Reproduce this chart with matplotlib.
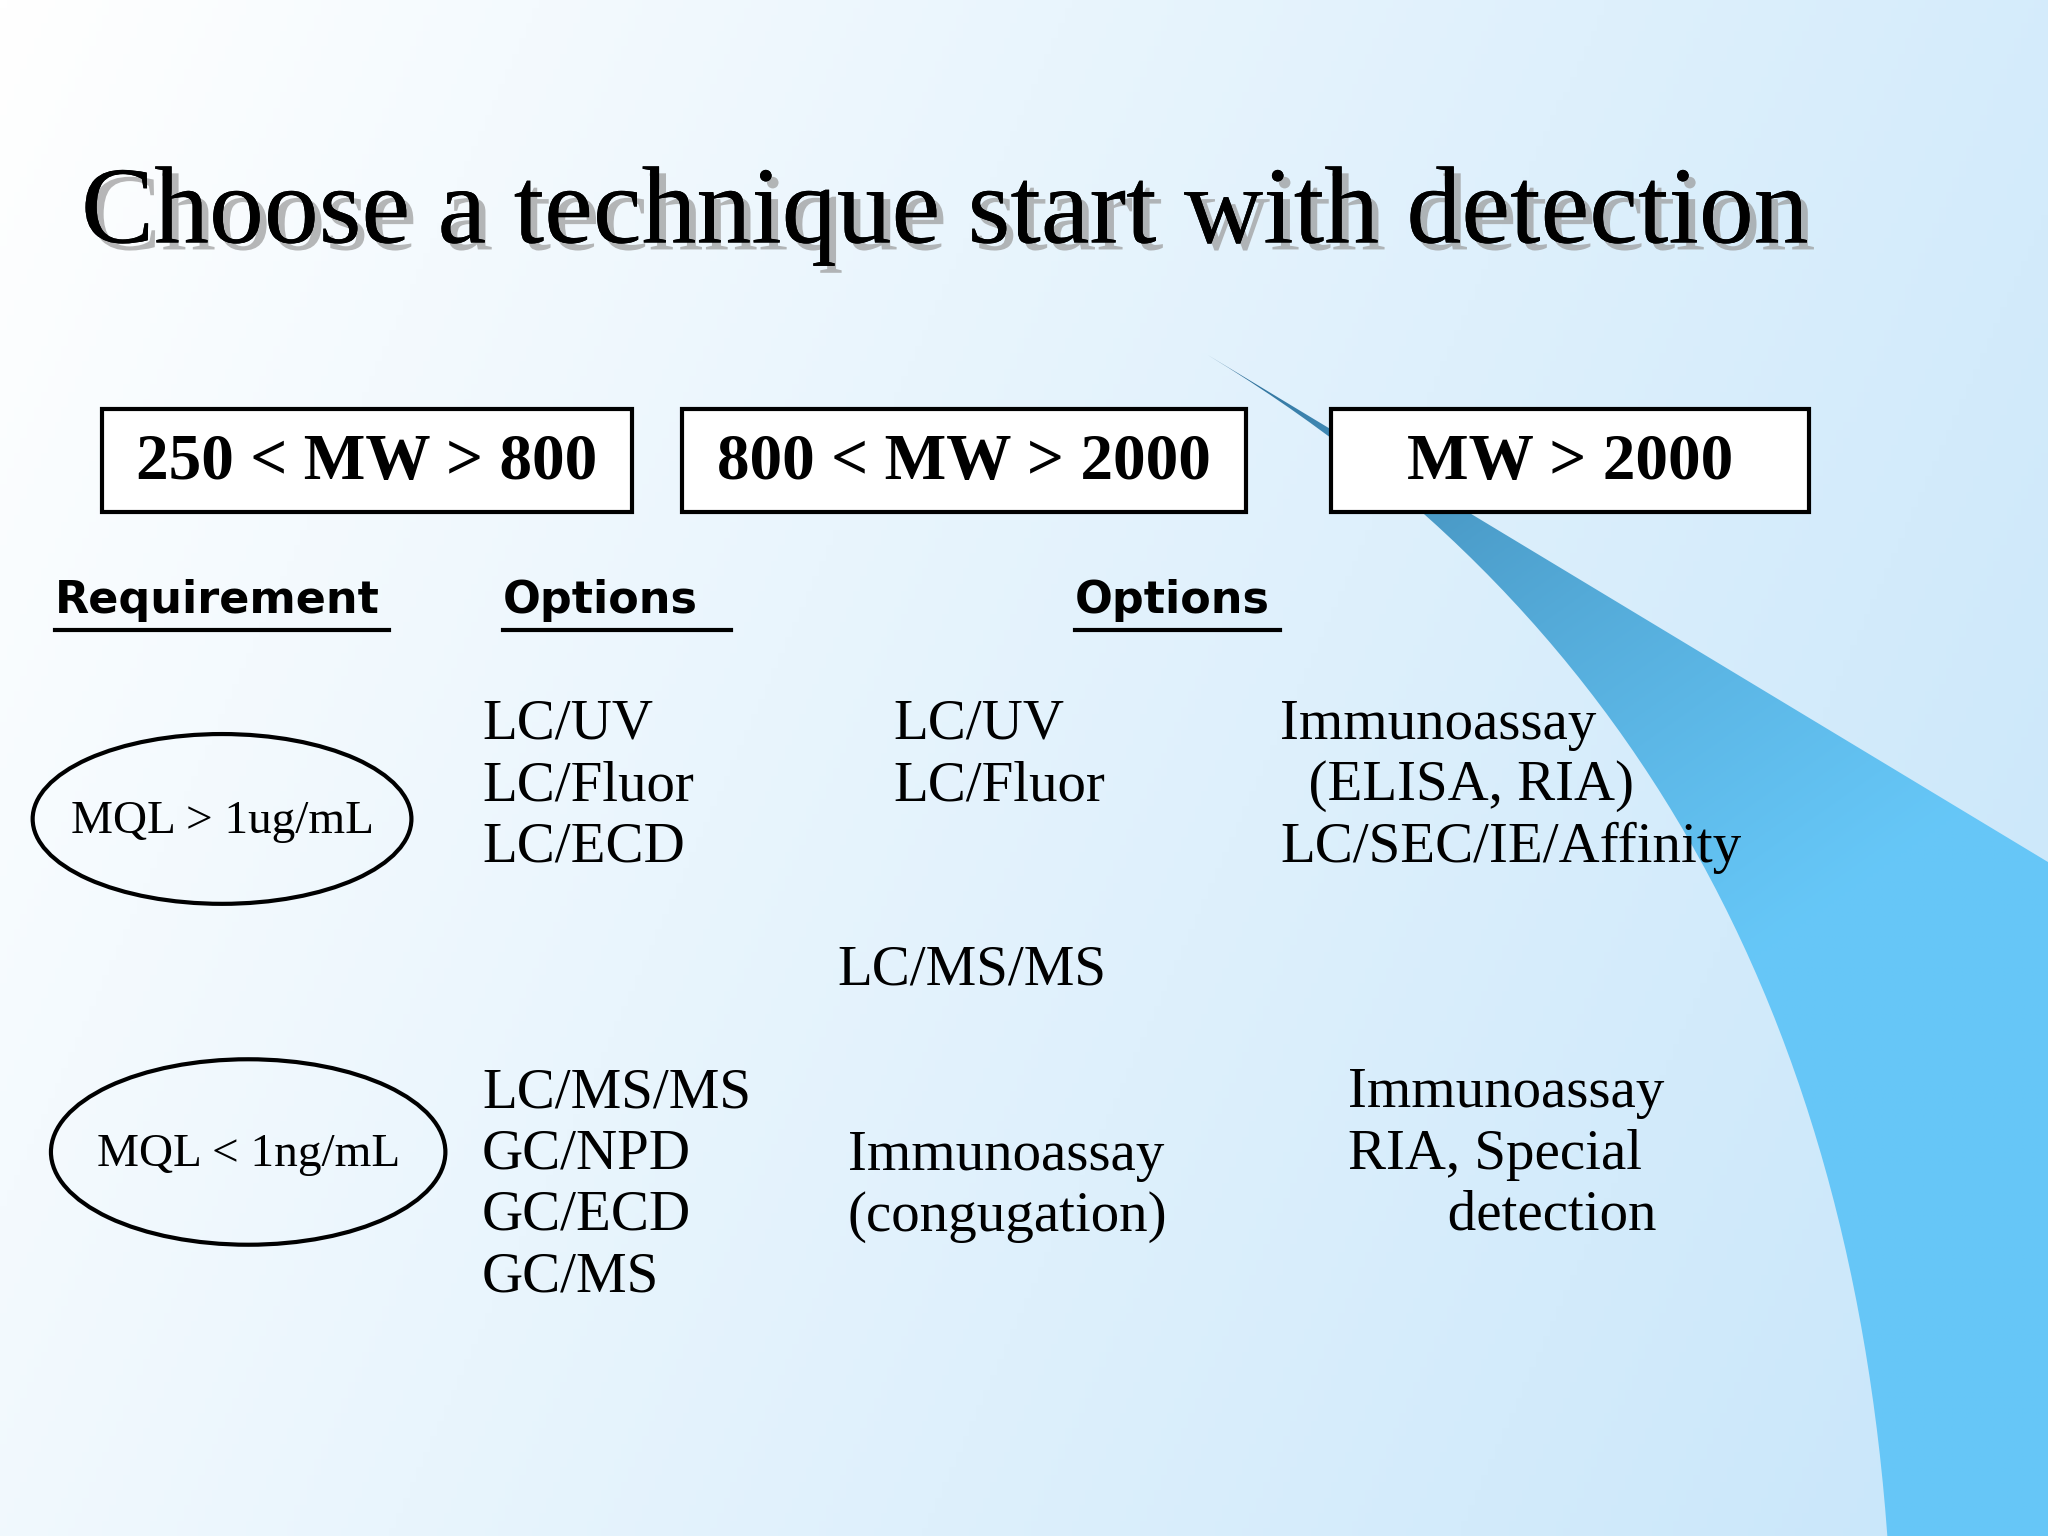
import matplotlib
matplotlib.use("Agg")
import matplotlib.pyplot as plt
import numpy as np
from matplotlib.patches import Rectangle, Ellipse, Polygon
import matplotlib.patheffects as pe

title = "Choose a technique start with detection"
mw_boxes = ["250 < MW > 800", "800 < MW > 2000", "MW > 2000"]
headers = ["Requirement", "Options", "Options"]
requirements = ["MQL > 1ug/mL", "MQL < 1ng/mL"]
opts_low_1 = ["LC/UV", "LC/Fluor", "LC/ECD"]
opts_mid_1 = ["LC/UV", "LC/Fluor"]
opts_high_1 = ["Immunoassay", "  (ELISA, RIA)", "LC/SEC/IE/Affinity"]
shared = "LC/MS/MS"
opts_low_2 = ["LC/MS/MS", "GC/NPD", "GC/ECD", "GC/MS"]
opts_mid_2 = ["Immunoassay", "(congugation)"]
opts_high_2 = ["Immunoassay", "RIA, Special", "       detection"]

W, H = 1568, 1176
fig = plt.figure(figsize=(20.48, 15.36), dpi=100)
ax = fig.add_axes([0, 0, 1, 1])
ax.set_xlim(0, W); ax.set_ylim(H, 0); ax.axis("off")

xx, yy = np.meshgrid(np.linspace(0, 1, 300), np.linspace(0, 1, 200))
t = np.clip(0.75 * xx + 0.25 * yy, 0, 1)
c0 = np.array([1.0, 1.0, 1.0]); c1 = np.array([0.78, 0.90, 0.98])
bg = c0 + (c1 - c0) * t[..., None]
ax.imshow(bg, extent=[0, W, H, 0], aspect="auto", zorder=0)

# swoosh: straight outer edge, smooth curved inner edge (quadratic bezier)
u = np.linspace(0, 1, 60)
p0, p1, p2 = np.array([925, 272]), np.array([1400, 560]), np.array([1445, 1176])
inner = ((1 - u) ** 2)[:, None] * p0 + (2 * u * (1 - u))[:, None] * p1 + (u ** 2)[:, None] * p2
pts = [(925, 272), (1568, 660), (1568, 1176)] + [tuple(p) for p in inner[::-1]]
poly = Polygon(pts, closed=True, facecolor="none", edgecolor="none")
ax.add_patch(poly)
sx, sy = np.meshgrid(np.linspace(0, 1, 300), np.linspace(0, 1, 300))
s = np.clip(0.6 * sx + 1.2 * sy, 0, 1)
d0 = np.array([0.10, 0.30, 0.45]); d1 = np.array([0.40, 0.78, 0.97])
sw = d0 + (d1 - d0) * (s ** 0.4)[..., None]
im = ax.imshow(sw, extent=[925, W, H, 272], aspect="auto", zorder=1)
im.set_clip_path(poly)

serif = "Liberation Serif"
ax.text(62, 165, title, fontsize=79, family=serif, va="center", ha="left", zorder=5,
        path_effects=[pe.withSimplePatchShadow(offset=(5, -5), shadow_rgbFace=(0.6, 0.6, 0.6), alpha=0.7), pe.Normal()])

boxes = [(78, 313, 406, 79), (522, 313, 432, 79), (1019, 313, 366, 79)]
for (x, y, w, h), lab in zip(boxes, mw_boxes):
    ax.add_patch(Rectangle((x, y), w, h, facecolor="white", edgecolor="black", lw=3, zorder=4))
    ax.text(x + w / 2, y + h / 2 + 2, lab, fontsize=47, family=serif, weight="bold",
            ha="center", va="center", zorder=5)

hdr = [(42, 298), (385, 560), (823, 980)]
for (x0, x1), lab in zip(hdr, headers):
    ax.text(x0, 460, lab, fontsize=32, family="DejaVu Sans", weight="bold", ha="left", va="center", zorder=5)
    ax.plot([x0, x1], [482, 482], color="black", lw=3, zorder=5)

ells = [(170, 627, 290, 130), (190, 882, 302, 142)]
for (cx, cy, w, h), lab in zip(ells, requirements):
    ax.add_patch(Ellipse((cx, cy), w, h, facecolor="none", edgecolor="black", lw=3, zorder=4))
    ax.text(cx, cy + 2, lab, fontsize=34, family=serif, ha="center", va="center", zorder=5)

def col(x, y0, lines, dy=47):
    for i, l in enumerate(lines):
        ax.text(x, y0 + i * dy, l, fontsize=41, family=serif, ha="left", va="center", zorder=5)

col(369, 555, opts_low_1)
col(684, 555, opts_mid_1)
col(980, 555, opts_high_1)
ax.text(641, 743, shared, fontsize=41, family=serif, ha="left", va="center", zorder=5)
col(369, 837, opts_low_2)
col(649, 885, opts_mid_2)
col(1032, 837, opts_high_2)

fig.savefig("out.png", dpi=100)
